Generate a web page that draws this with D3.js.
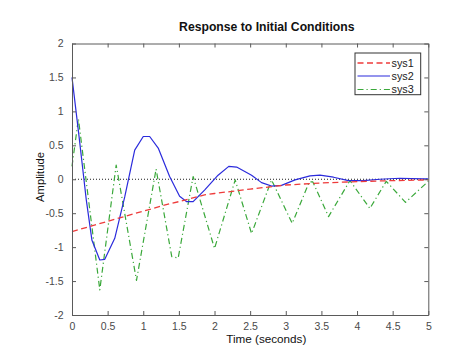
<!DOCTYPE html>
<html>
<head>
<meta charset="utf-8">
<script src="https://cdn.jsdelivr.net/npm/d3@7"></script>
<style>
  html, body { margin: 0; padding: 0; background: #fff; }
  svg { display: block; font-family: "Liberation Sans", Arial, sans-serif; }
</style>
</head>
<body>
<svg id="chart" width="474" height="355"></svg>
<script>
const titleText = "Response to Initial Conditions";
const xLabelText = "Time (seconds)";
const yLabelText = "Amplitude";
const xTicks = [0, 0.5, 1, 1.5, 2, 2.5, 3, 3.5, 4, 4.5, 5];
const yTicks = [-2, -1.5, -1, -0.5, 0, 0.5, 1, 1.5, 2];
const seriesNames = ["sys1", "sys2", "sys3"];

const sys1T = [0, 0.5, 1.0, 1.37, 1.5, 1.86, 2.0, 2.5, 3.0, 3.5, 4.0, 4.5, 5.0];
const sys1Y = [-0.77, -0.62, -0.47, -0.36, -0.33, -0.23, -0.21, -0.145, -0.085, -0.055, -0.035, -0.02, -0.01];

const sys2T = [0, 0.1, 0.2, 0.28, 0.39, 0.46, 0.6, 0.74, 0.88, 1.0, 1.09, 1.21, 1.37, 1.51, 1.61, 1.7, 1.86, 2.05, 2.2, 2.31, 2.52, 2.66, 2.8, 2.94, 3.13, 3.34, 3.48, 3.67, 3.88, 4.09, 4.32, 4.6, 4.93, 5.0];
const sys2Y = [1.5, 0.62, -0.3, -0.9, -1.19, -1.18, -0.87, -0.26, 0.43, 0.63, 0.63, 0.46, 0.04, -0.25, -0.33, -0.33, -0.16, 0.06, 0.19, 0.18, 0.06, -0.05, -0.1, -0.09, -0.01, 0.05, 0.06, 0.03, -0.02, -0.02, 0.0, 0.015, 0.005, 0.005];

const sys3T = [0, 0.09, 0.39, 0.62, 0.905, 1.18, 1.4, 1.49, 1.7, 2.0, 2.29, 2.52, 2.8, 3.09, 3.33, 3.38, 3.6, 3.9, 4.18, 4.41, 4.68, 5.0];
const sys3Y = [0.19, 0.89, -1.63, 0.21, -1.49, 0.15, -1.14, -1.16, 0.04, -1.02, -0.01, -0.8, -0.01, -0.65, -0.04, -0.04, -0.55, -0.02, -0.43, -0.03, -0.34, -0.03];

(function () {
const svg = d3.select("#chart");
const pLeft = 72, pRight = 428.3, pTop = 43.5, pBottom = 315;
const x = d3.scaleLinear().domain([0, 5]).range([pLeft, pRight]);
const y = d3.scaleLinear().domain([-2, 2]).range([pBottom, pTop]);

const axisColor = "#5a5a5a";
const tickLabelColor = "#4a4a4a";
const plainFmt = d => String(d);

// zero reference line
svg.append("line")
  .attr("x1", x(0)).attr("x2", x(5))
  .attr("y1", y(0)).attr("y2", y(0))
  .attr("stroke", "#000").attr("stroke-width", 0.9)
  .attr("stroke-dasharray", "1,2");

// series
const line = d3.line().x(d => x(d[0])).y(d => y(d[1]));
const zip = (a, b) => a.map((v, i) => [v, b[i]]);
const styles = [
  { color: "#ee3b3b", dash: "6,3.5", width: 1.3 },
  { color: "#2b2bdc", dash: null, width: 1.2 },
  { color: "#3aa83a", dash: "6,3,1.2,3", width: 1.2 }
];
const seriesData = [zip(sys1T, sys1Y), zip(sys2T, sys2Y), zip(sys3T, sys3Y)];
const drawOrder = [2, 1, 0];
drawOrder.forEach(i => {
  svg.append("path")
    .datum(seriesData[i])
    .attr("d", line)
    .attr("fill", "none")
    .attr("stroke", styles[i].color)
    .attr("stroke-width", styles[i].width)
    .attr("stroke-linejoin", "round")
    .attr("stroke-dasharray", styles[i].dash);
});

// axes with inward ticks on all sides
const tl = 4;
const axB = svg.append("g").attr("transform", `translate(0,${pBottom})`)
  .call(d3.axisBottom(x).tickValues(xTicks).tickSizeInner(-tl).tickSizeOuter(0).tickPadding(8).tickFormat(plainFmt));
const axT = svg.append("g").attr("transform", `translate(0,${pTop})`)
  .call(d3.axisTop(x).tickValues(xTicks).tickSizeInner(-tl).tickSizeOuter(0).tickFormat(""));
const axL = svg.append("g").attr("transform", `translate(${pLeft},0)`)
  .call(d3.axisLeft(y).tickValues(yTicks).tickSizeInner(-tl).tickSizeOuter(0).tickPadding(8).tickFormat(plainFmt));
const axR = svg.append("g").attr("transform", `translate(${pRight},0)`)
  .call(d3.axisRight(y).tickValues(yTicks).tickSizeInner(-tl).tickSizeOuter(0).tickFormat(""));
[axB, axT, axL, axR].forEach(g => {
  g.select(".domain").attr("stroke", axisColor).attr("stroke-width", 1);
  g.selectAll(".tick line").attr("stroke", axisColor);
  g.selectAll("text").attr("fill", tickLabelColor)
    .style("font-family", '"Liberation Sans", Arial, sans-serif')
    .style("font-size", "10.5px");
});
axL.selectAll("text").attr("dx", "-0.5");

// title & labels
svg.append("text").attr("x", 266.8).attr("y", 31)
  .attr("text-anchor", "middle").attr("font-weight", "bold")
  .attr("font-size", "12.2px").attr("fill", "#111").text(titleText);
svg.append("text").attr("x", 266.3).attr("y", 342.7)
  .attr("text-anchor", "middle").attr("font-size", "11.7px").attr("fill", "#111").text(xLabelText);
svg.append("text").attr("transform", `translate(44,177) rotate(-90)`)
  .attr("text-anchor", "middle").attr("font-size", "11.2px").attr("fill", "#111").text(yLabelText);

// legend
const leg = svg.append("g");
leg.append("rect").attr("x", 355).attr("y", 53).attr("width", 65.7).attr("height", 41.7)
  .attr("fill", "#fff").attr("stroke", "#333").attr("stroke-width", 1);
const legY = [63, 76, 89.5];
seriesNames.forEach((name, i) => {
  leg.append("line").attr("x1", 357.5).attr("x2", 390)
    .attr("y1", legY[i]).attr("y2", legY[i])
    .attr("stroke", styles[i].color).attr("stroke-width", styles[i].width)
    .attr("stroke-dasharray", styles[i].dash);
  leg.append("text").attr("x", 391.5).attr("y", legY[i]).attr("dy", "0.35em")
    .attr("font-size", "10.8px").attr("fill", "#222").text(name);
});
})();
</script>
</body>
</html>
